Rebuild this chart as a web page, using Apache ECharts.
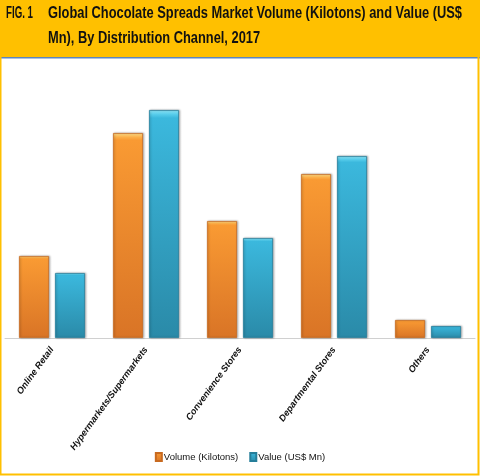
<!DOCTYPE html>
<html><head><meta charset="utf-8">
<script src="https://cdn.jsdelivr.net/npm/echarts@6/dist/echarts.min.js"></script>
<style>html,body{margin:0;padding:0;background:#fff}#c{width:480px;height:476px}</style>
</head><body><div id="c"></div>
<script>
const categories = ['Online Retail','Hypermarkets/Supermarkets','Convenience Stores','Departmental Stores','Others'];
const volume = [82, 205, 117, 164, 18];
const value = [65, 228, 100, 182, 12];
const seriesNames = ['Volume (Kilotons)', 'Value (US$ Mn)'];
const titleTag = 'FIG. 1';
const titleLines = ['Global Chocolate Spreads Market Volume (Kilotons) and Value (US$', 'Mn), By Distribution Channel, 2017'];

const FONT = '"Liberation Sans",Arial,sans-serif';
const TFONT = 'bold 16px "Liberation Sans", Arial, sans-serif';
const ctx = document.createElement('canvas').getContext('2d');
ctx.font = TFONT;
const line1W = ctx.measureText(titleLines[0]).width;
const tagW = ctx.measureText(titleTag).width;
const sx = 414 / line1W;
const sxTag = 27 / tagW;

function grad(top, hi, mid, low){
  return new echarts.graphic.LinearGradient(0,0,0,1,[
    {offset:0,color:top},{offset:0.02,color:hi},{offset:0.035,color:mid},{offset:1,color:low}]);
}
const chart = echarts.init(document.getElementById('c'), null, {renderer:'canvas'});
chart.setOption({
  animation:false,
  backgroundColor:'#fff',
  graphic:[
    {type:'rect', shape:{x:0,y:0,width:480,height:57}, style:{fill:'#FFC000'}, z:-1},
    {type:'rect', shape:{x:0,y:57,width:480,height:1.5}, style:{fill:'#5B86C0'}, z:-1},
    {type:'rect', shape:{x:0.5,y:0.5,width:478,height:474}, style:{fill:null,stroke:'#FFC000',lineWidth:2}, z:10},
    {type:'text', x:6, y:14, scaleX:sxTag, style:{text:titleTag, font:TFONT, fill:'#111', verticalAlign:'middle'}},
    {type:'text', x:48, y:14, scaleX:sx, style:{text:titleLines[0], font:TFONT, fill:'#111', verticalAlign:'middle'}},
    {type:'text', x:48, y:39, scaleX:sx, style:{text:titleLines[1], font:TFONT, fill:'#111', verticalAlign:'middle'}}
  ],
  legend:{bottom:9, left:'center', itemWidth:6, itemHeight:8, itemGap:11, icon:'rect',
    textStyle:{fontFamily:FONT,fontSize:9.5,color:'#111',padding:[0,0,0,-3]}, data:seriesNames},
  grid:{left:5, right:5, top:98, bottom:138, containLabel:false, outerBoundsMode:'none'},
  xAxis:{type:'category', data:categories,
    axisLine:{lineStyle:{color:'#d0d0d0',width:1}}, axisTick:{show:false},
    axisLabel:{rotate:54, interval:0, fontFamily:FONT, fontStyle:'italic', fontWeight:'bold', fontSize:9.2, color:'#111', margin:10}},
  yAxis:{type:'value', min:0, max:240, show:false, splitLine:{show:false}},
  series:[
    {name:seriesNames[0], type:'bar', data:volume, barWidth:30, barGap:'20%',
     itemStyle:{color:grad('#FFE08A','#FBB04A','#F99A33','#D97426'), borderColor:'#C86A20', borderWidth:0.8,
       shadowColor:'rgba(0,0,0,0.25)', shadowBlur:2, shadowOffsetX:1}},
    {name:seriesNames[1], type:'bar', data:value, barWidth:30,
     itemStyle:{color:grad('#8EE6F8','#55CBEA','#3BB8DD','#2A8AA8'), borderColor:'#257E9A', borderWidth:0.8,
       shadowColor:'rgba(0,0,0,0.25)', shadowBlur:2, shadowOffsetX:1}}
  ]
});
</script></body></html>
